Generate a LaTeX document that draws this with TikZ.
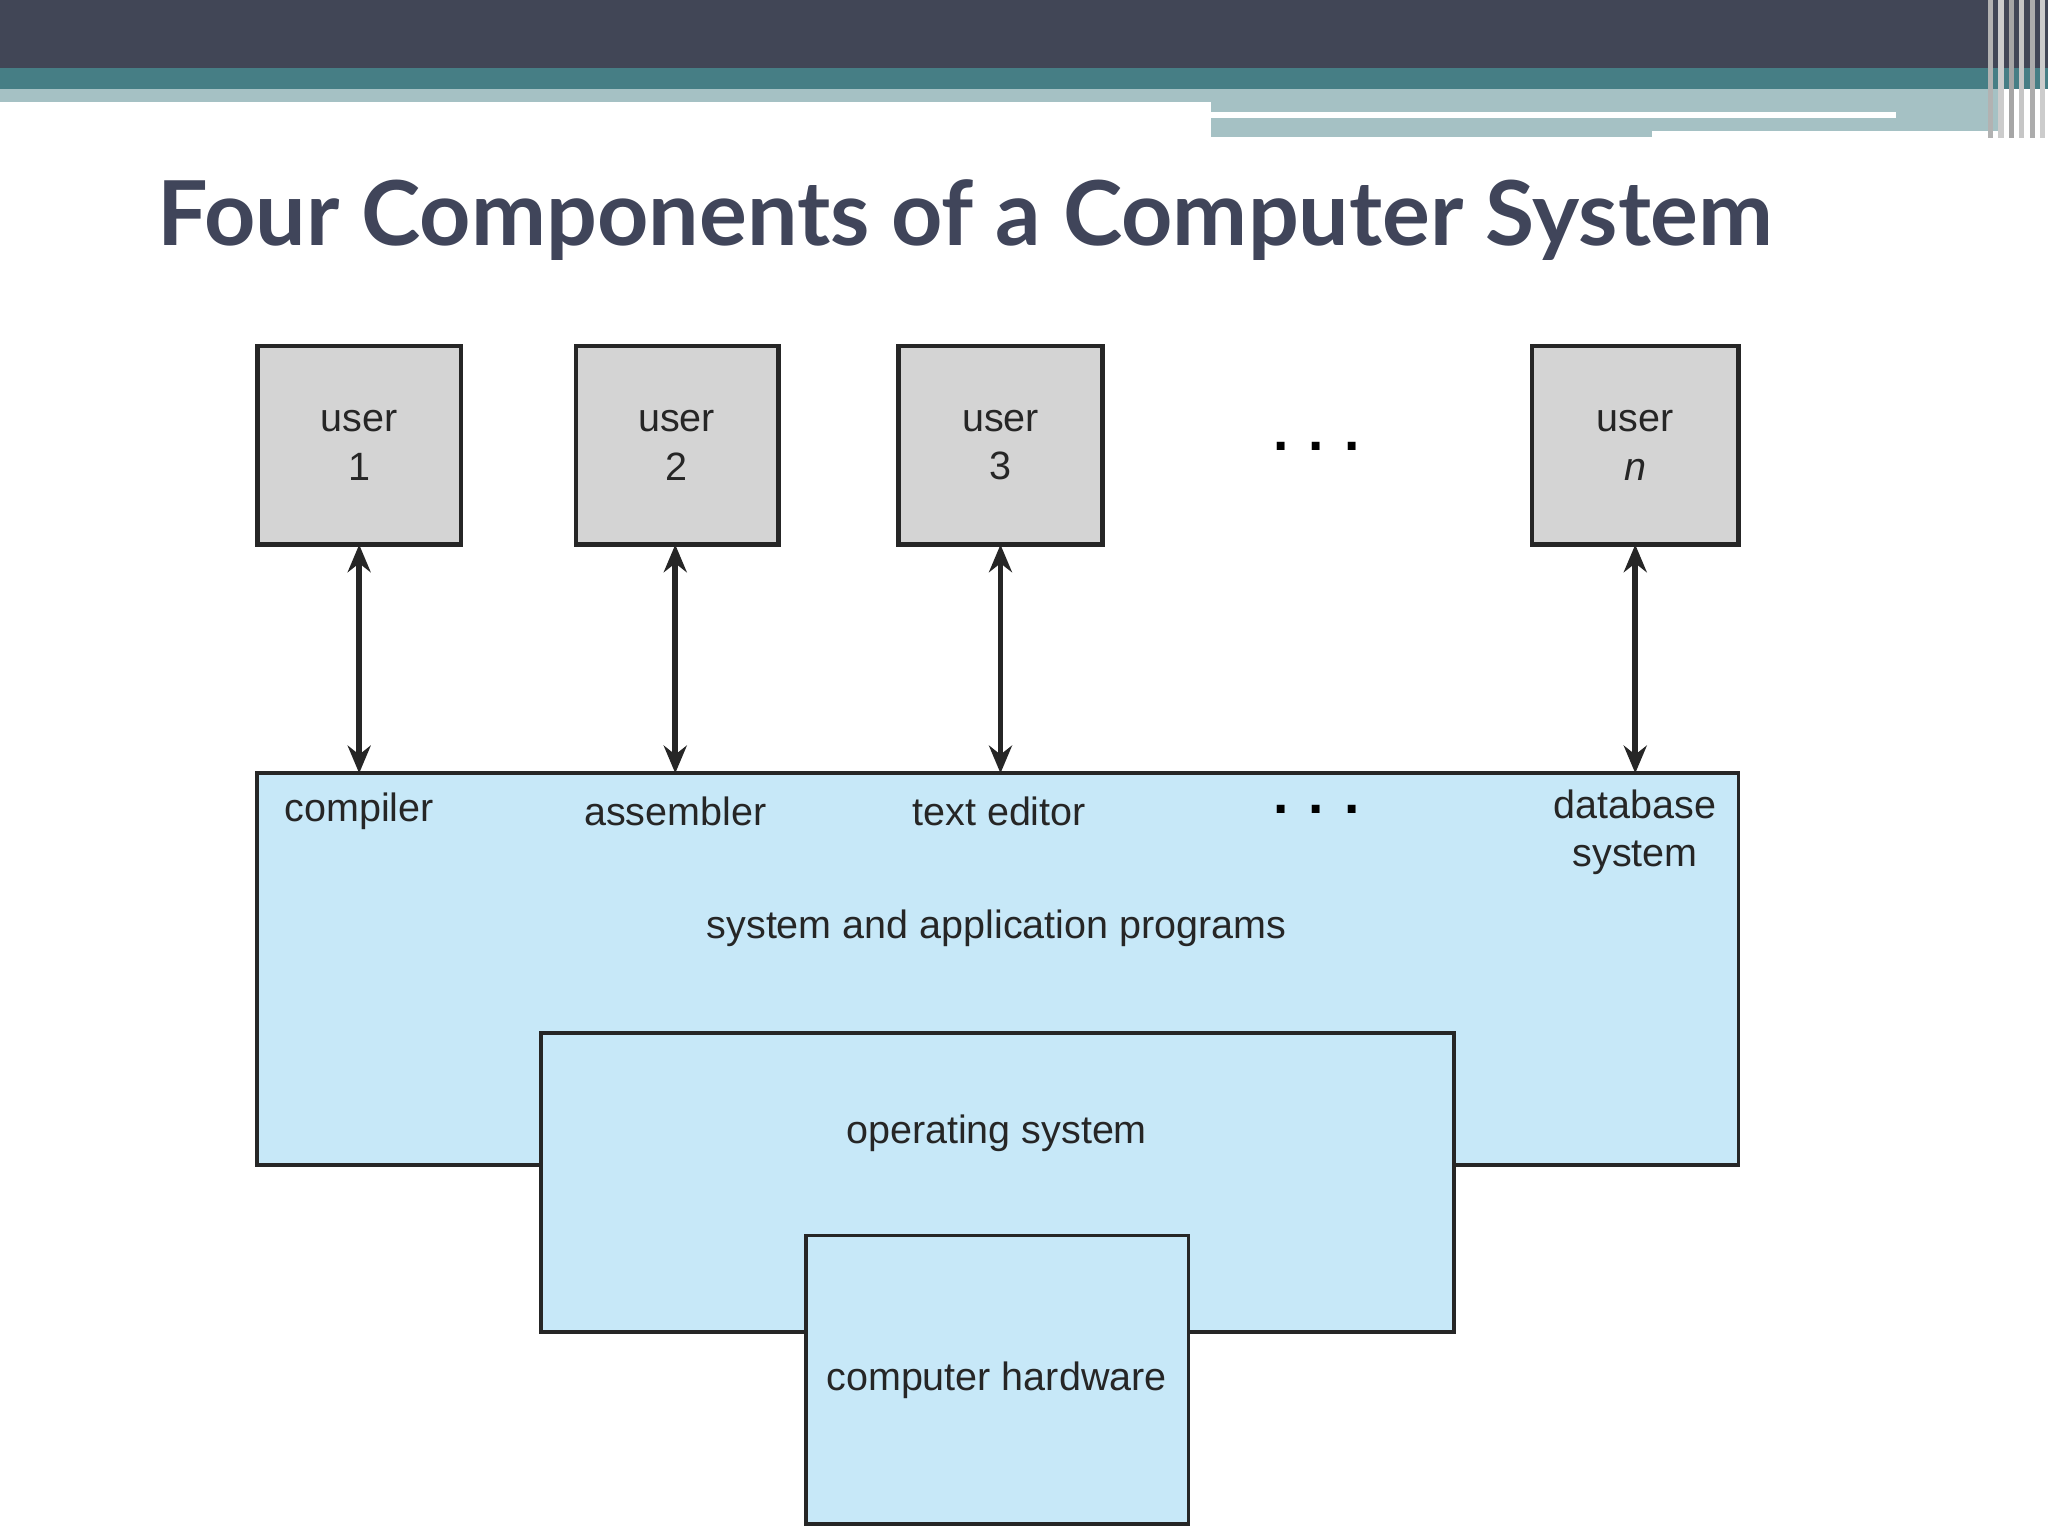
\documentclass[tikz,border=0pt]{standalone}
\usepackage{fontspec}
\setmainfont{Liberation Sans}
\newfontfamily\titlefont{Lato}
\usetikzlibrary{arrows.meta}
\definecolor{dark}{HTML}{414656}
\definecolor{teal}{HTML}{467E85}
\definecolor{pale}{HTML}{A5C1C4}
\definecolor{ugray}{HTML}{D4D4D4}
\definecolor{lblue}{HTML}{C7E8F8}
\definecolor{tcol}{HTML}{40455A}
\begin{document}
\begin{tikzpicture}[x=0.01cm,y=-0.01cm,
  user/.style={draw=black!85,line width=1pt,fill=ugray},
  blue/.style={draw=black!85,line width=0.8pt,fill=lblue},
  lbl/.style={font=\fontsize{8.6}{10.5}\selectfont,text=black!85,align=center},
  arr/.style={{Stealth[length=6pt,width=5pt]}-{Stealth[length=6pt,width=5pt]},line width=1.3pt,black!85}]
\useasboundingbox (0,0) rectangle (1568,1176);
\fill[white] (0,0) rectangle (1568,1176);
% header
\fill[dark] (0,0) rectangle (1568,52);
\fill[teal] (0,52) rectangle (1568,68);
\fill[pale] (0,68) rectangle (927,78);
\fill[pale] (927,68) rectangle (1530,105);
\fill[white] (927,86) rectangle (1452,90);
\fill[white] (1265,100) rectangle (1530,106);
\foreach \x/\c in {1522/gray!60,1530/gray!40,1538/gray!70,1546/gray!45,1554/gray!65,1562/gray!40}
  \fill[\c] (\x,0) rectangle ++(4,106);
\node[anchor=base west,inner sep=0,font=\titlefont\bfseries\fontsize{19.5}{22}\selectfont,text=tcol] (title) at (120,188) {Four Components of a Computer System};
% users
\draw[user] (197,265) rectangle (353,417); \node[lbl] (u1) at (275,341) {user\\1};
\draw[user] (441,265) rectangle (596,417); \node[lbl] (u2) at (518,341) {user\\2};
\draw[user] (688,265) rectangle (844,417); \node[lbl] (u3) at (766,341) {user\\3};
\draw[user] (1173,265) rectangle (1331,417); \node[lbl] (un) at (1252,341) {user\\\textit{n}};
\node[font=\bfseries\fontsize{12}{12}\selectfont] (d1) at (1008,342) {. . .};
% boxes
\draw[blue] (197,592) rectangle (1331,892);
\draw[blue] (414,791) rectangle (1113,1020);
\draw[blue] (617,946) rectangle (910,1167);
\node[lbl] (c) at (275,621) {compiler};
\node[lbl] (a) at (517,621) {assembler};
\node[lbl] (t) at (765,621) {text editor};
\node[font=\bfseries\fontsize{12}{12}\selectfont] (d2) at (1008,620) {. . .};
\node[lbl] (db) at (1252,637) {database\\system};
\node[lbl] (sap) at (763,711) {system and application programs};
\node[lbl] (os) at (763,868) {operating system};
\node[lbl] (hw) at (763,1057) {computer hardware};
% arrows
\coordinate (a1t) at (275,417); \coordinate (a1b) at (275,592);
\coordinate (a2t) at (517,417); \coordinate (a2b) at (517,592);
\coordinate (a3t) at (766,417); \coordinate (a3b) at (766,592);
\coordinate (a4t) at (1252,417); \coordinate (a4b) at (1252,592);
\draw[arr] (a1t) -- (a1b);
\draw[arr] (a2t) -- (a2b);
\draw[arr] (a3t) -- (a3b);
\draw[arr] (a4t) -- (a4b);
\end{tikzpicture}
\end{document}
